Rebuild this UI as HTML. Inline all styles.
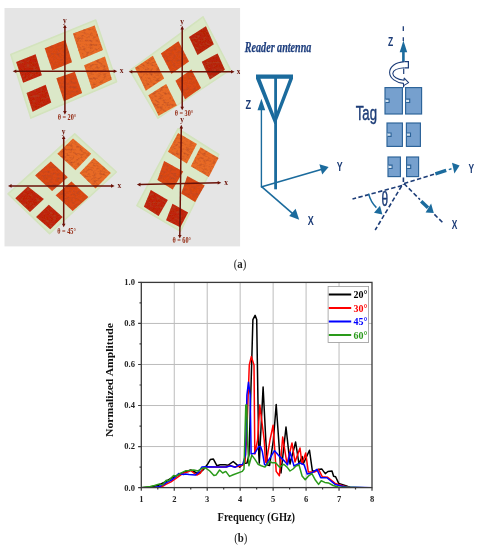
<!DOCTYPE html>
<html><head><meta charset="utf-8"><title>Figure</title>
<style>
html,body{margin:0;padding:0;background:#fff;}
body{width:484px;height:550px;overflow:hidden;}
svg{display:block;}
.pl{font-family:"Liberation Serif",serif;font-size:7.5px;font-weight:bold;fill:#6b1208;}
.pt{font-family:"Liberation Serif",serif;font-size:8px;font-weight:bold;fill:#92260e;}
.ra{font-family:"Liberation Serif",serif;font-size:14px;font-weight:bold;font-style:italic;fill:#1f3f7e;stroke:#1f3f7e;stroke-width:0.25px;}
.al{font-family:"Liberation Sans",sans-serif;font-size:13.6px;font-weight:bold;fill:#1d3d78;}
.tg{font-family:"Liberation Sans",sans-serif;font-size:19.4px;fill:#1d3d78;stroke:#1d3d78;stroke-width:0.45px;}
.th{font-family:"Liberation Sans",sans-serif;font-size:19.5px;fill:#1d3d78;stroke:#1d3d78;stroke-width:0.5px;}
.cap{font-family:"Liberation Serif",serif;font-size:12.2px;fill:#222;}
.tk{font-family:"Liberation Serif",serif;font-size:8.5px;font-weight:bold;fill:#222;}
.at{font-family:"Liberation Serif",serif;font-size:11.7px;font-weight:bold;fill:#111;}
.lg{font-family:"Liberation Serif",serif;font-size:10px;font-weight:bold;}
</style></head><body>
<svg width="484" height="550" viewBox="0 0 484 550">
<rect x="4.5" y="8" width="235.6" height="238.4" fill="#e5e5e5"/>
<clipPath id="pc"><rect x="4.5" y="8" width="235.6" height="238.4"/></clipPath>
<g clip-path="url(#pc)">
<filter id="pb" x="-5%" y="-5%" width="110%" height="110%"><feGaussianBlur stdDeviation="0.45"/></filter>
<filter id="tx" x="0" y="0" width="100%" height="100%"><feTurbulence type="fractalNoise" baseFrequency="0.3 0.45" numOctaves="3" seed="7" result="n"/><feColorMatrix in="n" type="matrix" values="0 0 0 0 0.42  0 0 0 0 0.06  0 0 0 0 0.02  1.8 0 0 0 -0.8" result="d"/><feComposite in="d" in2="SourceGraphic" operator="in" result="di"/><feMerge><feMergeNode in="SourceGraphic"/><feMergeNode in="di"/></feMerge><feGaussianBlur stdDeviation="0.45"/></filter>
<g filter="url(#pb)">
<path d="M10.8 54.6 L95.7 20 L116.6 81.7 L30.9 118.1Z" fill="#dbe8c8" stroke="#d3e3bd" stroke-width="1.6" stroke-linejoin="round"/>
<path d="M130 70.5 L203 16.8 L230.4 69.7 L158 118.2Z" fill="#dbe8c8" stroke="#d3e3bd" stroke-width="1.6" stroke-linejoin="round"/>
<path d="M8.05 193.9 L74.7 133.8 L116.4 172 L49.6 233.6Z" fill="#dbe8c8" stroke="#d3e3bd" stroke-width="1.6" stroke-linejoin="round"/>
<path d="M136.9 205.6 L178.1 128.7 L218.8 154.5 L180.5 231.2Z" fill="#dbe8c8" stroke="#d3e3bd" stroke-width="1.6" stroke-linejoin="round"/>
</g>
<g filter="url(#tx)">
<path d="M16.1 62.1 L35.6 54.3 L41.8 75.3 L23.2 82.8Z" fill="#c0220f"/>
<path d="M26.6 93 L45.7 84.8 L51.2 102.5 L32.6 111.7Z" fill="#c0220f"/>
<path d="M44.72 48.21 L65.39 39.94 L71.96 62.2 L52.24 70.15Z" fill="#da4818"/>
<path d="M56.4 78.2 L74.8 71.8 L82.1 93 L63.9 101.3Z" fill="#da4818"/>
<path d="M73 33.5 L94.6 25.6 L103 50 L81.2 59.3Z" fill="#e86a26"/>
<path d="M84.1 65.3 L104.9 56.6 L111.9 79.5 L92 89.3Z" fill="#e86a26"/>
<path d="M135 67.7 L152.8 55.7 L164.1 78.6 L145.8 90.7Z" fill="#e86a26"/>
<path d="M148.4 95.3 L166.2 84 L176.8 105.5 L158.6 115.7Z" fill="#e86a26"/>
<path d="M160.88 53.54 L178.43 41.13 L189.02 61.46 L171.47 73.87Z" fill="#da4818"/>
<path d="M175.49 80.81 L191.4 69.56 L201.01 87.99 L185.1 99.24Z" fill="#da4818"/>
<path d="M189 36.9 L205.9 26.3 L213.8 44.2 L197.5 55.1Z" fill="#b82210"/>
<path d="M201.8 61.7 L217.6 53.4 L224.9 69.7 L209.9 79.6Z" fill="#b82210"/>
<path d="M57.4 153.8 L73 138.5 L91.2 153.8 L75.6 170.3Z" fill="#e86a26"/>
<path d="M79.6 172.9 L93.8 158.1 L110.8 172.9 L95.5 188.5Z" fill="#e86a26"/>
<path d="M35.1 175.5 L50.8 161.6 L67.8 177.2 L52.1 191.1Z" fill="#da4818"/>
<path d="M55.7 195.3 L71.4 181.4 L88.4 197 L72.7 210.9Z" fill="#da4818"/>
<path d="M15.3 198.2 L27.9 186.6 L43.8 198.9 L30 211.9Z" fill="#c0220f"/>
<path d="M36.1 217 L48.8 204.7 L62.6 217 L50.3 229.3Z" fill="#c0220f"/>
<path d="M168 151.8 L178.1 133 L196.9 143.9 L186.8 163.4Z" fill="#e86a26"/>
<path d="M190.8 166.3 L200.5 147.3 L218.5 158 L208.8 177Z" fill="#e86a26"/>
<path d="M157.41 180.01 L164.12 160.98 L183.16 171.43 L172.71 189.58Z" fill="#da4818"/>
<path d="M181.2 193.4 L187.3 176.1 L204.6 185.6 L195.1 202.1Z" fill="#da4818"/>
<path d="M143.9 206.8 L150.8 190 L167.8 199.9 L158.6 216Z" fill="#c0220f"/>
<path d="M166.1 220.3 L172.5 203.8 L188.1 212.5 L180.3 227.3Z" fill="#c0220f"/>
</g>
<line x1="15.2" y1="71.3" x2="114.8" y2="71.3" stroke="#6b1208" stroke-width="1.5"/>
<path d="M12.7 71.3l3.6 -1.8v3.6z M117.3 71.3l-3.6 -1.8v3.6z" fill="#6b1208"/>
<line x1="64.9" y1="27" x2="64.9" y2="112.2" stroke="#6b1208" stroke-width="1.5"/>
<path d="M64.9 24.5l-1.8 3.6h3.6z M64.9 114.7l-1.8 -3.6h3.6z" fill="#6b1208"/>
<text x="119.7" y="73" class="pl">x</text>
<text x="64.9" y="23" class="pl" text-anchor="middle">y</text>
<text x="67" y="120" class="pt" text-anchor="middle" textLength="18.6" lengthAdjust="spacingAndGlyphs">θ = 20°</text>
<line x1="131.2" y1="71.8" x2="232.1" y2="71.8" stroke="#6b1208" stroke-width="1.5"/>
<path d="M128.7 71.8l3.6 -1.8v3.6z M234.6 71.8l-3.6 -1.8v3.6z" fill="#6b1208"/>
<line x1="182.2" y1="28.3" x2="182.2" y2="107.8" stroke="#6b1208" stroke-width="1.5"/>
<path d="M182.2 25.8l-1.8 3.6h3.6z M182.2 110.3l-1.8 -3.6h3.6z" fill="#6b1208"/>
<text x="236.8" y="73.6" class="pl">x</text>
<text x="182.2" y="24.2" class="pl" text-anchor="middle">y</text>
<text x="184" y="115.7" class="pt" text-anchor="middle" textLength="18.6" lengthAdjust="spacingAndGlyphs">θ = 30°</text>
<line x1="10.5" y1="185.9" x2="112.1" y2="185.9" stroke="#6b1208" stroke-width="1.5"/>
<path d="M8 185.9l3.6 -1.8v3.6z M114.6 185.9l-3.6 -1.8v3.6z" fill="#6b1208"/>
<line x1="63.7" y1="138" x2="63.7" y2="224.8" stroke="#6b1208" stroke-width="1.5"/>
<path d="M63.7 135.5l-1.8 3.6h3.6z M63.7 227.3l-1.8 -3.6h3.6z" fill="#6b1208"/>
<text x="117.5" y="187.6" class="pl">x</text>
<text x="63.7" y="134.3" class="pl" text-anchor="middle">y</text>
<text x="66.6" y="233.6" class="pt" text-anchor="middle" textLength="18.6" lengthAdjust="spacingAndGlyphs">θ = 45°</text>
<line x1="139.4" y1="184.6" x2="218.8" y2="182.7" stroke="#6b1208" stroke-width="1.5"/>
<path d="M136.9 184.6l3.6 -1.8v3.6z M221.3 182.7l-3.6 -1.8v3.6z" fill="#6b1208"/>
<line x1="181.3" y1="127.3" x2="179.8" y2="236.1" stroke="#6b1208" stroke-width="1.5"/>
<path d="M181.3 124.8l-1.8 3.6h3.6z M179.8 238.6l-1.8 -3.6h3.6z" fill="#6b1208"/>
<text x="224.2" y="185.2" class="pl">x</text>
<text x="182" y="122.3" class="pl" text-anchor="middle">y</text>
<text x="181.7" y="243" class="pt" text-anchor="middle" textLength="18.6" lengthAdjust="spacingAndGlyphs">θ = 60°</text>
</g>
<text x="244.8" y="52.2" class="ra" textLength="66.6" lengthAdjust="spacingAndGlyphs">Reader antenna</text>
<path d="M256 74.6H293V78.8L275.6 124H274.4L256 78.8Z M260.4 78.8L275 116.5L289.2 78.8Z" fill="#1b6b9d" fill-rule="evenodd"/>
<rect x="274.2" y="76" width="2.8" height="113.3" fill="#1b6b9d"/>
<line x1="261.4" y1="187.4" x2="261.4" y2="108" stroke="#1b6b9d" stroke-width="1.4"/>
<path d="M261.4 98.7L265.2 110.2H257.5Z" fill="#1b6b9d"/>
<line x1="261" y1="187" x2="322" y2="169.2" stroke="#1b6b9d" stroke-width="1.6"/>
<path d="M328.6 167L319.4 164.2L322.2 174.4Z" fill="#1b6b9d"/>
<line x1="261.6" y1="186.6" x2="293" y2="213.8" stroke="#1b6b9d" stroke-width="1.6"/>
<path d="M299.2 219.8L289.2 216.1L295.6 208.8Z" fill="#1b6b9d"/>
<text x="248.35" y="108.9" class="al" text-anchor="middle" textLength="5.6" lengthAdjust="spacingAndGlyphs">Z</text>
<text x="339.8" y="170.7" class="al" text-anchor="middle" textLength="5.9" lengthAdjust="spacingAndGlyphs">Y</text>
<text x="310.65" y="224.8" class="al" text-anchor="middle" textLength="6" lengthAdjust="spacingAndGlyphs">X</text>
<text x="390.6" y="46" class="al" text-anchor="middle" textLength="5.2" lengthAdjust="spacingAndGlyphs">Z</text>
<line x1="403.3" y1="26.2" x2="403.3" y2="31.1" stroke="#1d3d78" stroke-width="1.3"/>
<line x1="403.3" y1="37.3" x2="403.3" y2="41" stroke="#1d3d78" stroke-width="1.3"/>
<path d="M403.4 40.4L407.2 52.2H399.7Z" fill="#1b6b9d"/>
<rect x="402.1" y="51" width="2.6" height="11" fill="#1b6b9d"/>
<line x1="403.7" y1="68.4" x2="403.7" y2="74.1" stroke="#1d3d78" stroke-width="1.2"/>
<line x1="403.6" y1="84.5" x2="403.6" y2="87.5" stroke="#1d3d78" stroke-width="1.2"/>
<path d="M404.6 61.6H408.4V67.8H404.6" fill="#fff" stroke="#1d3d78" stroke-width="1.2"/>
<path d="M404.6 61.6C395 62.2 389.6 67 389.6 72.5C389.8 78.5 396 82.4 403.4 83.4L403.6 85.6L408.6 82.6L404.2 78.2L404 80.3C397 79.6 392.8 76.5 392.8 73.5C393 70.5 397.5 68.2 404.6 67.8" fill="#fff" stroke="#1d3d78" stroke-width="1.1" stroke-linejoin="round"/>
<rect x="385" y="87.6" width="17.4" height="26.4" fill="#76a0ce" stroke="#2b6298" stroke-width="1.15"/>
<path d="M385.5 99.1h3.6v3.4h-3.6" fill="#d2e2f0" stroke="#2b6298" stroke-width="1.1"/>
<rect x="405.6" y="87.6" width="16" height="26.4" fill="#76a0ce" stroke="#2b6298" stroke-width="1.15"/>
<path d="M406.1 99.1h3.6v3.4h-3.6" fill="#d2e2f0" stroke="#2b6298" stroke-width="1.1"/>
<rect x="387" y="123" width="15.4" height="23.4" fill="#76a0ce" stroke="#2b6298" stroke-width="1.15"/>
<path d="M387.5 133h3.6v3.4h-3.6" fill="#d2e2f0" stroke="#2b6298" stroke-width="1.1"/>
<rect x="406.4" y="123" width="14" height="23.4" fill="#76a0ce" stroke="#2b6298" stroke-width="1.15"/>
<path d="M406.9 133h3.6v3.4h-3.6" fill="#d2e2f0" stroke="#2b6298" stroke-width="1.1"/>
<rect x="388" y="157" width="12.4" height="19.6" fill="#76a0ce" stroke="#2b6298" stroke-width="1.15"/>
<path d="M388.5 165.1h3.6v3.4h-3.6" fill="#d2e2f0" stroke="#2b6298" stroke-width="1.1"/>
<rect x="406.6" y="157" width="12" height="19.6" fill="#76a0ce" stroke="#2b6298" stroke-width="1.15"/>
<path d="M407.1 165.1h3.6v3.4h-3.6" fill="#d2e2f0" stroke="#2b6298" stroke-width="1.1"/>
<text x="355.8" y="119.8" class="tg" textLength="21.2" lengthAdjust="spacingAndGlyphs">Tag</text>
<g stroke="#1d3d78" stroke-width="1.6" stroke-dasharray="4.4 2.4" fill="none">
<line x1="402" y1="185.5" x2="352.5" y2="199"/>
<line x1="401.6" y1="186" x2="375.2" y2="230"/>
<line x1="404" y1="183.6" x2="434" y2="174.3"/>
<line x1="404" y1="183.6" x2="420" y2="199.6"/>
<line x1="434.4" y1="214.4" x2="442.5" y2="222.4"/>
<line x1="403.4" y1="177.5" x2="403.4" y2="185"/>
</g>
<line x1="435.4" y1="173.9" x2="446.2" y2="170.4" stroke="#1b6b9d" stroke-width="3.4"/>
<line x1="448.8" y1="169.6" x2="451.5" y2="168.8" stroke="#1b6b9d" stroke-width="1.5"/>
<path d="M459.6 165.5L452 162.8L454.4 173.4Z" fill="#1b6b9d"/>
<line x1="421.2" y1="201.2" x2="428" y2="207.8" stroke="#1b6b9d" stroke-width="3.4"/>
<path d="M433.8 212.9L425.6 212.6L431.1 203.6Z" fill="#1b6b9d"/>
<path d="M368.6 193.6C370 199.5 372.8 204 376.4 207.6" fill="none" stroke="#1b6b9d" stroke-width="1.5"/>
<path d="M382.4 214.6L374 212.8L380 205.8Z" fill="#1b6b9d"/>
<text x="384.9" y="205.8" class="th" text-anchor="middle" textLength="6.6" lengthAdjust="spacingAndGlyphs">θ</text>
<text x="471.25" y="173.2" class="al" text-anchor="middle" textLength="5.6" lengthAdjust="spacingAndGlyphs">Y</text>
<text x="454.55" y="228.5" class="al" text-anchor="middle" textLength="5.6" lengthAdjust="spacingAndGlyphs">X</text>
<text transform="translate(240 268) scale(0.89 1)" class="cap" text-anchor="middle">(<tspan font-weight="bold">a</tspan>)</text>
<text transform="translate(240.8 541.5) scale(0.89 1)" class="cap" text-anchor="middle">(<tspan font-weight="bold">b</tspan>)</text>
<path d="M174.26 282.4V487.6 M207.21 282.4V487.6 M240.17 282.4V487.6 M273.13 282.4V487.6 M306.09 282.4V487.6 M339.04 282.4V487.6 M141.3 446.56H372 M141.3 405.52H372 M141.3 364.48H372 M141.3 323.44H372" stroke="#bcbcbc" stroke-width="1" fill="none"/>
<clipPath id="cc"><rect x="141.3" y="282.4" width="230.7" height="205.2"/></clipPath>
<g clip-path="url(#cc)" fill="none" stroke-width="1.5" stroke-linejoin="round">
<polyline stroke="#000" points="140.9,487.7 150,487 158,485.5 165,482 170,479 175,476.5 180,474 185,472 190.7,470 193.3,471 196.4,473 199.5,473 203.1,470 207.2,464.8 210.3,459.6 213.4,459.1 217,465.8 220.1,464.8 225,464.8 228.3,465.2 233.2,461.5 236.5,464.4 239.8,467.3 241.9,464.8 244,463.5 247,463 249,455 251.8,358.9 252.9,319.6 255.1,315.3 256.7,319.6 257.3,358.9 258.8,455 259.3,463.1 260.4,440 263.1,387.1 265.8,440 267.5,465 269.6,465.4 273.4,440 276.2,404.5 281,473 286,427 290,464 295.6,442 299,464 302.1,456.5 303.6,463.2 309.5,450.3 312.4,471 315.5,471 318.1,469.4 321.7,468.9 325.3,473.6 327.9,471.5 332,471 333.6,476.2 335.6,476.7 338.7,483.4 343.4,484.9 346.5,486 350,487.5 371.6,487.7"/>
<polyline stroke="#f00" points="140.9,487.7 155.5,487.7 162.2,486.5 165.8,484.4 171,481.8 175.6,478.7 179.8,475.6 183.4,473.1 187.5,472 190.7,470.5 193.8,473 196.9,475.1 200.5,473 203.1,468.4 205.7,467 216,466.9 226.3,467 229.4,465.6 235,467 239.8,466.1 243,465 245,462 246.5,440 249.3,365 251.3,356.6 254,365 254.8,454 257.6,440 259.8,405.1 264.2,440 265.5,462 266.3,462.7 270,440 273.1,425.2 276.2,471.4 279.4,475.8 282.7,437 287,464 292,443 295,462 300,448 302,464 305.7,452.9 308.3,472 314.5,472 318.6,469.4 322.2,476.7 327.4,477.2 335.1,483.4 343.4,486 350,487.5 371.6,487.7"/>
<polyline stroke="#00f" points="140.9,487.7 153.4,487.7 159.6,486.5 163.8,484.4 166.9,482.4 171,480.3 174.1,478.2 178.7,473.6 183.4,474.6 185.5,474.1 189.1,474.6 195.3,475.1 197.9,473 202,466.9 205.7,466.7 216,467 226.3,467 230.5,465.8 234.9,467.3 239,464.8 242.7,464.4 245.5,455 246.9,395 248.5,382.2 250.2,395 251.1,454 254.8,453.3 258.8,446.4 260.6,446.4 262.4,451.8 264.5,464.5 265.8,465.4 269.1,459.4 274.5,450.7 278.3,455.1 282.7,459.4 284.9,461.6 287.6,464.9 290,452 294,466 300,463 304.1,464.8 307.2,474.1 311.4,473.1 317,469.4 320.7,477.7 326.9,477.7 330,480.3 335.1,484.4 341.3,486 346.5,487 371.6,487.7"/>
<polyline stroke="#2a9a1a" points="140.9,487.7 150.3,486.5 154.5,485.5 159.6,483.9 162.2,484.9 166.3,480.3 168.4,480.8 173.6,475.6 176.2,476.2 180.8,473.1 185.5,470.8 189.1,470.5 193.8,470 197.9,471 202,468.4 205.1,467.7 209.8,471 213.9,475.6 216,475.1 219.6,470 222.7,473 225.8,471.4 229.5,476.4 233.2,474.8 242.3,471.4 244,469 244.8,440 245.8,405.1 246.8,405.1 247.5,440 248.9,465.7 251.8,455.1 254.8,459.1 258,464.2 261.3,465.7 265,467.1 269.6,461.1 271.8,462.7 275.6,462.7 279.4,467.1 283.8,464.3 287.1,467.1 290,471 293,469 296,466 299,465 302.1,476 305.2,479.8 308.3,476.2 311.9,473.6 315.5,480.3 318.6,484.4 321.2,480.8 324.8,482.4 328.4,482.9 333.1,485.5 338.2,487 365,487.7"/>
</g>
<rect x="141.3" y="282.4" width="230.7" height="205.2" fill="none" stroke="#3a3a3a" stroke-width="1.3"/>
<path d="M138.1 487.6H141.3 M138.1 446.56H141.3 M138.1 405.52H141.3 M138.1 364.48H141.3 M138.1 323.44H141.3 M138.1 282.4H141.3 M139.5 467.08H141.3 M139.5 426.04H141.3 M139.5 385H141.3 M139.5 343.96H141.3 M139.5 302.92H141.3 M141.3 487.6V490.8 M174.26 487.6V490.8 M207.21 487.6V490.8 M240.17 487.6V490.8 M273.13 487.6V490.8 M306.09 487.6V490.8 M339.04 487.6V490.8 M372 487.6V490.8 M157.78 487.6V489.4 M190.74 487.6V489.4 M223.69 487.6V489.4 M256.65 487.6V489.4 M289.61 487.6V489.4 M322.56 487.6V489.4 M355.52 487.6V489.4" stroke="#3a3a3a" stroke-width="1.2" fill="none"/>
<text x="134.9" y="490.5" class="tk" text-anchor="end">0.0</text>
<text x="134.9" y="449.46" class="tk" text-anchor="end">0.2</text>
<text x="134.9" y="408.42" class="tk" text-anchor="end">0.4</text>
<text x="134.9" y="367.38" class="tk" text-anchor="end">0.6</text>
<text x="134.9" y="326.34" class="tk" text-anchor="end">0.8</text>
<text x="134.9" y="285.3" class="tk" text-anchor="end">1.0</text>
<text x="141.3" y="501.5" class="tk" text-anchor="middle">1</text>
<text x="174.26" y="501.5" class="tk" text-anchor="middle">2</text>
<text x="207.21" y="501.5" class="tk" text-anchor="middle">3</text>
<text x="240.17" y="501.5" class="tk" text-anchor="middle">4</text>
<text x="273.13" y="501.5" class="tk" text-anchor="middle">5</text>
<text x="306.09" y="501.5" class="tk" text-anchor="middle">6</text>
<text x="339.04" y="501.5" class="tk" text-anchor="middle">7</text>
<text x="372" y="501.5" class="tk" text-anchor="middle">8</text>
<text transform="translate(256.3 521.1) scale(0.89 1)" class="at" text-anchor="middle">Frequency (GHz)</text>
<text transform="translate(112.8 380.1) scale(0.89 1) rotate(-90)" class="at" text-anchor="middle">Normalized Amplitude</text>
<rect x="328.1" y="286.5" width="40.5" height="56" fill="#fff" stroke="#999" stroke-width="0.8"/>
<line x1="328.8" y1="294.5" x2="351.2" y2="294.5" stroke="#000" stroke-width="2"/>
<text x="353.4" y="298.1" class="lg" fill="#000">20°</text>
<line x1="328.8" y1="308" x2="351.2" y2="308" stroke="#f00" stroke-width="2"/>
<text x="353.4" y="311.6" class="lg" fill="#f00">30°</text>
<line x1="328.8" y1="321.5" x2="351.2" y2="321.5" stroke="#00f" stroke-width="2"/>
<text x="353.4" y="325.1" class="lg" fill="#00f">45°</text>
<line x1="328.8" y1="335" x2="351.2" y2="335" stroke="#2a9a1a" stroke-width="2"/>
<text x="353.4" y="338.6" class="lg" fill="#2a9a1a">60°</text>
</svg>
</body></html>
